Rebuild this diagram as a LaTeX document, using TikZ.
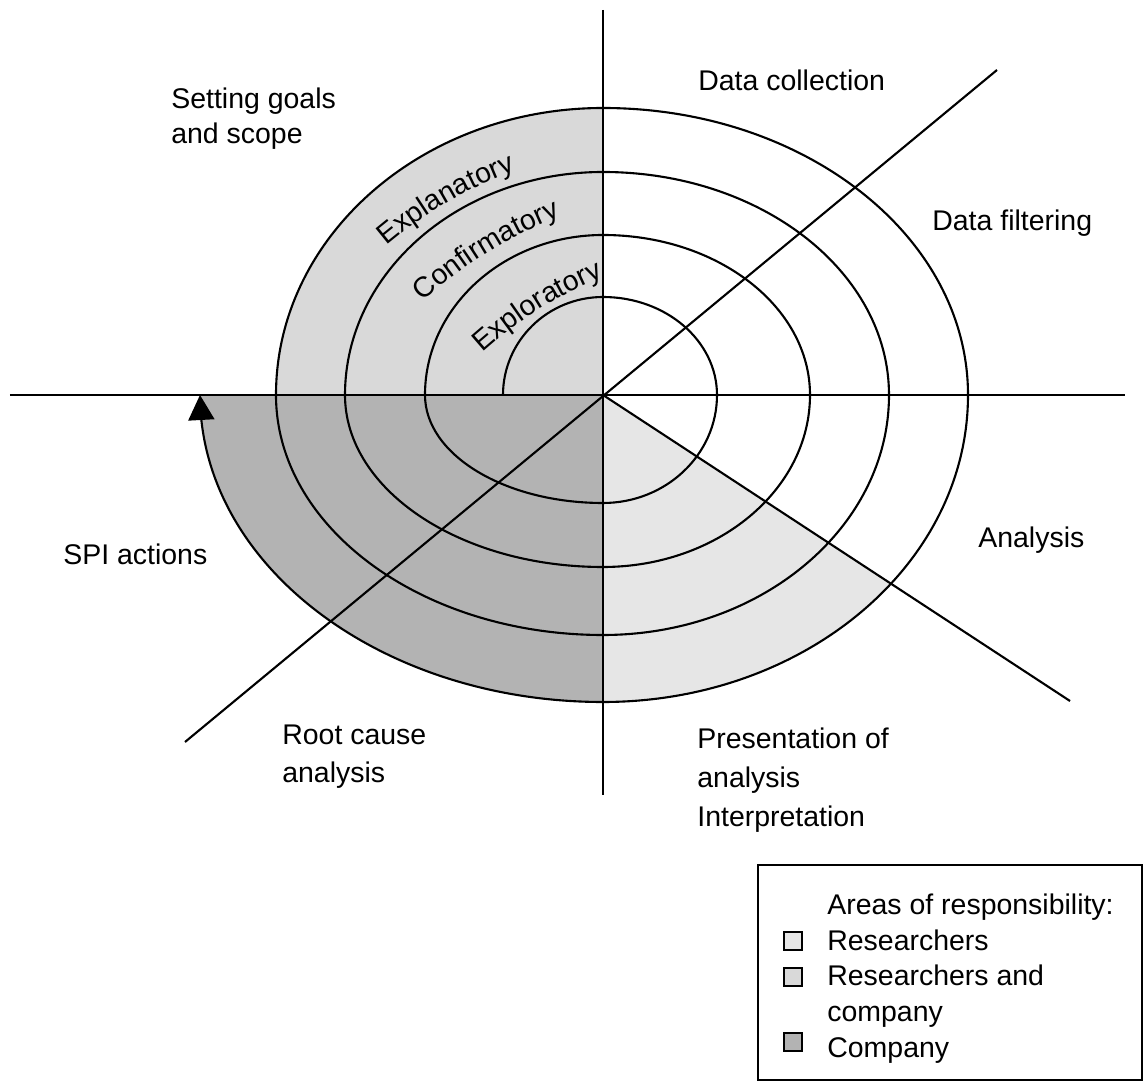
\documentclass[tikz,border=0pt]{standalone}
\usepackage{fontspec}
\setmainfont{Liberation Sans}
\usetikzlibrary{arrows.meta,decorations.text}
\definecolor{RespLight}{HTML}{E6E6E6}
\definecolor{RespMid}{HTML}{D9D9D9}
\definecolor{RespDark}{HTML}{B3B3B3}
\newcommand{\labsize}{\fontsize{16.2}{19.4}\selectfont}

\begin{document}
\begin{tikzpicture}[
    x=0.02cm, y=0.02cm,
    axisline/.style={line width=1.2pt},
    spiral/.style={line width=1.2pt},
    lbl/.style={inner sep=0pt, font=\labsize, align=left},
    swatch/.style={draw, line width=1pt, minimum size=0.36cm, inner sep=0pt},
    arclabel/.style={decorate, decoration={text along path, text align=center, text={|\labsize|#1}}}
  ]
  \useasboundingbox (-603,-692) rectangle (542,395);

  % areas of responsibility
  \fill[RespMid] (0,0) -- (-327,0) arc[start angle=180, end angle=90, x radius=327, y radius=287] -- cycle;
  \fill[RespDark] (0,0) -- (0,-307) arc[start angle=270, end angle=180, x radius=403, y radius=307] -- cycle;
  \fill[RespLight] (0,0) -- (0,-307) arc[start angle=-90, end angle=-37.9, x radius=365, y radius=307] -- cycle;

  % the spiral
  \draw[spiral]
    (-100,0) arc[start angle=180, end angle=90, x radius=100, y radius=98]
    arc[start angle=90, end angle=0, x radius=114, y radius=98]
    arc[start angle=0, end angle=-90, x radius=114, y radius=108]
    arc[start angle=270, end angle=180, x radius=178, y radius=108]
    arc[start angle=180, end angle=90, x radius=178, y radius=160]
    arc[start angle=90, end angle=0, x radius=207, y radius=160]
    arc[start angle=0, end angle=-90, x radius=207, y radius=172]
    arc[start angle=270, end angle=180, x radius=258, y radius=172]
    arc[start angle=180, end angle=90, x radius=258, y radius=223]
    arc[start angle=90, end angle=0, x radius=286, y radius=223]
    arc[start angle=0, end angle=-90, x radius=286, y radius=240]
    arc[start angle=270, end angle=180, x radius=327, y radius=240]
    arc[start angle=180, end angle=90, x radius=327, y radius=287]
    arc[start angle=90, end angle=0, x radius=365, y radius=287]
    arc[start angle=0, end angle=-90, x radius=365, y radius=307]
    arc[start angle=270, end angle=184.67, x radius=403, y radius=307] coordinate (tipbase);
  \coordinate (tip) at (-403,0);
  \draw[spiral, -{Triangle[length=0.5cm, width=0.52cm]}] (tipbase) -- (tip);

  % axes
  \coordinate (O) at (0,0);
  \coordinate (axW) at (-593,0);
  \coordinate (axE) at (522,0);
  \coordinate (axN) at (0,385);
  \coordinate (axS) at (0,-400);
  \coordinate (diagSW) at (-418,-347);
  \coordinate (diagNE) at (394,325);
  \coordinate (diagSE) at (467,-306);
  \draw[axisline] (axW) -- (axE);
  \draw[axisline] (axN) -- (axS);
  \draw[axisline] (diagSW) -- (diagNE);
  \draw[axisline] (O) -- (diagSE);

  % study types along the arcs
  \path[arclabel=Exploratory, shift={(161.5,-271.6)}] (138.2:422) arc[start angle=138.2, end angle=106.2, radius=422];
  \path[arclabel=Confirmatory, shift={(129.1,-251.6)}] (137.8:463.6) arc[start angle=137.8, end angle=105.8, radius=463.6];
  \path[arclabel=Explanatory, shift={(63.4,-181.7)}] (136.3:433.6) arc[start angle=136.3, end angle=104.3, radius=433.6];

  % phases
  \node[lbl, anchor=north west, font=\fontsize{16.2}{19.4}\selectfont] (goals) at (-432,307) {Setting goals\\and scope};
  \node[lbl, anchor=base west] (collect) at (95,304) {Data collection};
  \node[lbl, anchor=base west] (filter) at (329,164) {Data filtering};
  \node[lbl, anchor=base west] (analysis) at (375,-153) {Analysis};
  \node[lbl, anchor=north west, font=\fontsize{16.2}{22.2}\selectfont] (present) at (94,-332.5) {Presentation of\\analysis\\Interpretation};
  \node[lbl, anchor=north west, font=\fontsize{16.2}{21.6}\selectfont] (rootcause) at (-321,-329.5) {Root cause\\analysis};
  \node[lbl, anchor=base west] (spi) at (-540,-170) {SPI actions};

  % legend
  \node[draw, line width=1.2pt, minimum width=7.68cm, minimum height=4.3cm, inner sep=0pt] (legend) at (347,-577.5) {};
  \node[lbl, anchor=north west, font=\fontsize{16.2}{20.3}\selectfont] (legtext) at (224,-498.5)
    {Areas of responsibility:\\Researchers\\Researchers and\\company\\Company};
  \node[swatch, fill=RespLight] (swR) at (190,-546) {};
  \node[swatch, fill=RespMid] (swRC) at (190,-582) {};
  \node[swatch, fill=RespDark] (swC) at (190,-647) {};
\end{tikzpicture}
\end{document}
